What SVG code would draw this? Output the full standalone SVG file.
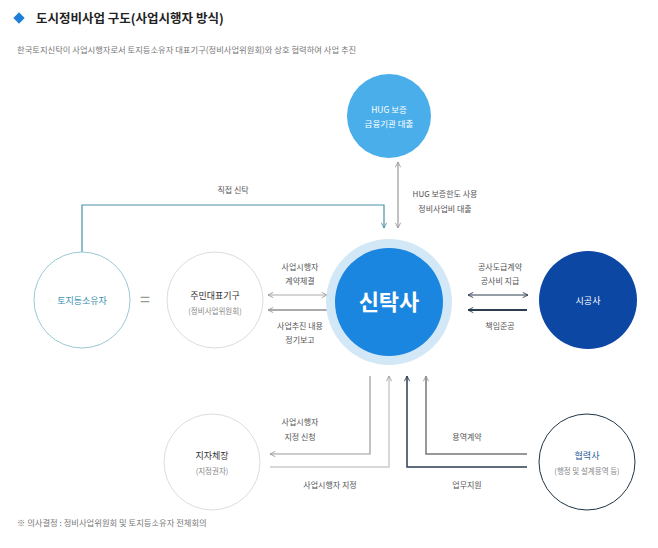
<svg xmlns="http://www.w3.org/2000/svg" width="658" height="548" viewBox="0 0 658 548">
<style>
text{font-family:"Noto Sans CJK KR","Noto Sans",sans-serif;text-anchor:middle}
.lb{font-size:8px;fill:#555}
.sub{font-size:7.5px;fill:#888}
.nm{font-size:9px;fill:#333}
.w{fill:#fff}
</style>
<defs>
<marker id="ag" viewBox="0 0 8 8" refX="7" refY="4" markerWidth="7" markerHeight="7" orient="auto-start-reverse" markerUnits="userSpaceOnUse"><path d="M1,1 L7,4 L1,7" fill="none" stroke="#999" stroke-width="1"/></marker>
<marker id="ad" viewBox="0 0 8 8" refX="7" refY="4" markerWidth="7" markerHeight="7" orient="auto-start-reverse" markerUnits="userSpaceOnUse"><path d="M1,1 L7,4 L1,7" fill="none" stroke="#2b3d4f" stroke-width="1"/></marker>
<marker id="at" viewBox="0 0 8 8" refX="7" refY="4" markerWidth="7" markerHeight="7" orient="auto-start-reverse" markerUnits="userSpaceOnUse"><path d="M1,1 L7,4 L1,7" fill="none" stroke="#4a8fa8" stroke-width="1"/></marker>
</defs>
<rect width="658" height="548" fill="#fff"/>
<rect x="15" y="14" width="8" height="8" fill="#1e7fd8" transform="rotate(45 19 18)"/>
<text x="36" y="23" style="text-anchor:start;font-size:12.5px;font-weight:bold;fill:#222">도시정비사업 구도(사업시행자 방식)</text>
<text x="17" y="53" style="text-anchor:start;font-size:8.3px;fill:#777">한국토지신탁이 사업시행자로서 토지등소유자 대표기구(정비사업위원회)와 상호 협력하여 사업 추진</text>
<text x="17" y="526" style="text-anchor:start;font-size:8.3px;fill:#777">※ 의사결정 : 정비사업위원회 및 토지등소유자 전체회의</text>

<g id="connectors" fill="none">
<path d="M82,252 V205 H384 V228" stroke="#4a8fa8" stroke-width="1.2" marker-end="url(#at)"/>
<path d="M398,162 V228" stroke="#999" stroke-width="1.2" marker-start="url(#ag)" marker-end="url(#ag)"/>
<path d="M268,295 H327" stroke="#aaa" stroke-width="1.2" marker-start="url(#ag)" marker-end="url(#ag)"/>
<path d="M327,310 H268" stroke="#aaa" stroke-width="2" marker-end="url(#ag)"/>
<path d="M468,295 H528" stroke="#2b3d4f" stroke-width="1.2" marker-start="url(#ad)" marker-end="url(#ad)"/>
<path d="M527,310 H468" stroke="#2b3d4f" stroke-width="2" marker-end="url(#ad)"/>
<path d="M370,376 V454 H270" stroke="#999" stroke-width="1.2" marker-end="url(#ag)"/>
<path d="M270,467 H389 V376" stroke="#ccc" stroke-width="1.5" marker-end="url(#ag)"/>
<path d="M527,467 H407 V376" stroke="#2b3d4f" stroke-width="1.5" marker-end="url(#ad)"/>
<path d="M527,454 H426 V376" stroke="#777" stroke-width="1.5" marker-end="url(#ag)"/>
</g>
<g id="labels">
<text x="233" y="193" class="lb">직접 신탁</text>
<text x="445" y="197" class="lb">HUG 보증한도 사용</text>
<text x="445" y="212" class="lb">정비사업비 대출</text>
<text x="300" y="270" class="lb">사업시행자</text>
<text x="300" y="284" class="lb">계약체결</text>
<text x="300" y="329" class="lb">사업추진 내용</text>
<text x="300" y="343" class="lb">정기보고</text>
<text x="500" y="270" class="lb">공사도급계약</text>
<text x="500" y="284" class="lb">공사비 지급</text>
<text x="500" y="329" class="lb">책임준공</text>
<text x="300" y="425" class="lb">사업시행자</text>
<text x="300" y="440" class="lb">지정 신청</text>
<text x="330" y="488" class="lb">사업시행자 지정</text>
<text x="467" y="440" class="lb">용역계약</text>
<text x="467" y="488" class="lb">업무지원</text>
</g>

<g id="hug"><circle cx="389" cy="116" r="42" fill="#4aaeea"/>
<text x="389" y="113" class="nm w" style="font-size:8.5px">HUG 보증</text>
<text x="389" y="127" class="nm w" style="font-size:8.5px">금융기관 대출</text></g>
<g id="trust"><circle cx="389" cy="302" r="63" fill="#d3e8f7"/><circle cx="389" cy="302" r="54" fill="#1a86e0"/>
<text x="389" y="310" style="font-size:22px;font-weight:bold;fill:#fff">신탁사</text></g>
<g id="owners"><circle cx="82" cy="300" r="48" fill="#fff" stroke="#9cc8d4" stroke-width="1"/>
<text x="82" y="304" style="font-size:9px;fill:#3a8fb0">토지등소유자</text></g>
<text x="145" y="306" style="font-size:18px;fill:#999">=</text>
<g id="residents"><circle cx="215" cy="300" r="48" fill="#fff" stroke="#ddd" stroke-width="1"/>
<text x="215" y="299" class="nm">주민대표기구</text>
<text x="215" y="314" class="sub">(정비사업위원회)</text></g>
<g id="builder"><circle cx="588" cy="300" r="49" fill="#0b47a3"/>
<text x="588" y="304" class="nm w">시공사</text></g>
<g id="gov"><circle cx="212" cy="462" r="48" fill="#fff" stroke="#ddd" stroke-width="1"/>
<text x="212" y="459" class="nm">지자체장</text>
<text x="212" y="474" class="sub">(지정권자)</text></g>
<g id="partner"><circle cx="587" cy="462" r="48" fill="#fff" stroke="#1f3444" stroke-width="1"/>
<text x="587" y="459" class="nm" style="fill:#2a5d9b">협력사</text>
<text x="587" y="474" class="sub">(행정 및 설계용역 등)</text></g>
</svg>
